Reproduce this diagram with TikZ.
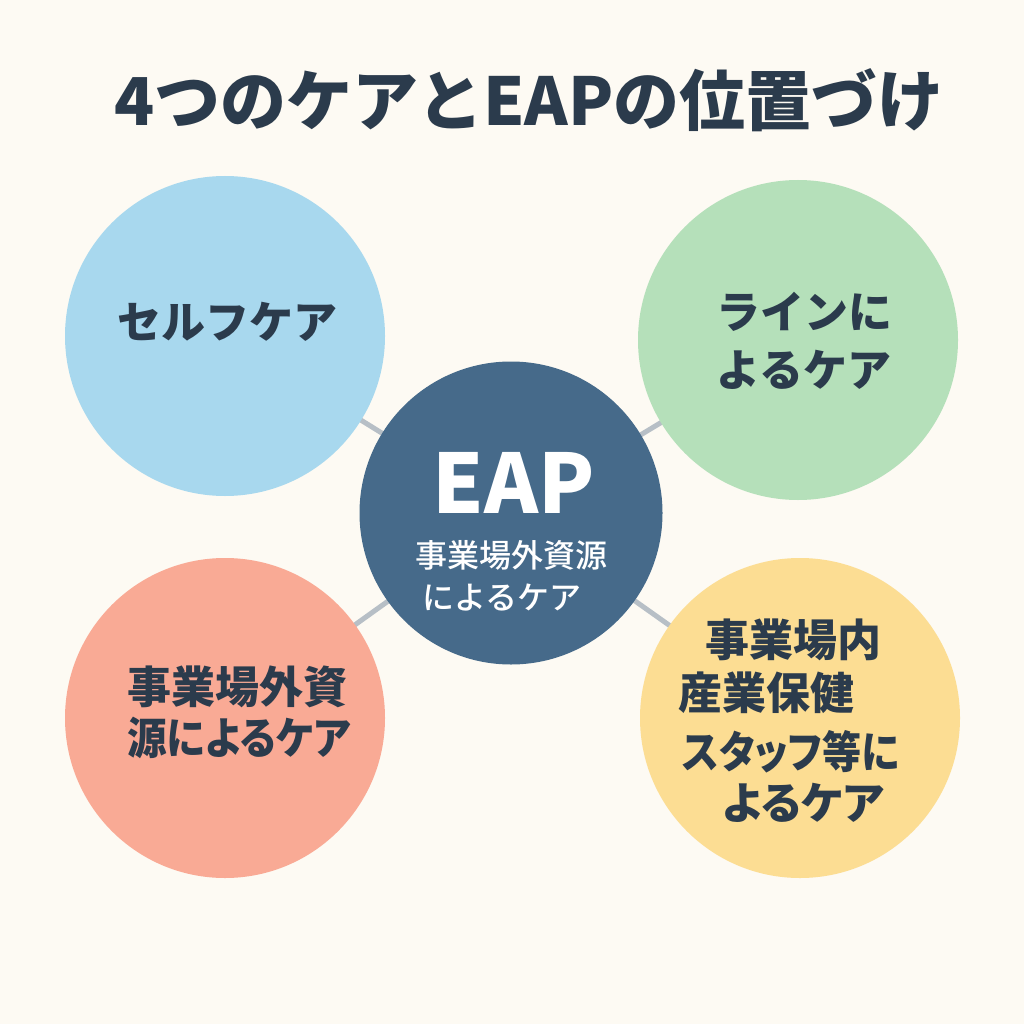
\documentclass[tikz,border=0pt]{standalone}
\usepackage{fontspec}
\setmainfont{Noto Sans CJK JP}
\newfontfamily\jpmed{Noto Sans CJK JP}[UprightFont={* Medium}]
\newfontfamily\jpprop{Noto Sans CJK JP}[RawFeature=+palt]
\definecolor{bgc}{HTML}{FDFAF3}
\definecolor{bluec}{HTML}{A8D8EE}
\definecolor{greenc}{HTML}{B5E0BA}
\definecolor{redc}{HTML}{F9AA95}
\definecolor{yellowc}{HTML}{FCDD93}
\definecolor{eapc}{HTML}{466A8A}
\definecolor{linkc}{HTML}{B7BFC6}
\definecolor{textc}{HTML}{2B3B4C}
\tikzset{
  care/.style={circle, minimum size=320pt, inner sep=0pt, draw=none},
  hub/.style={circle, minimum size=303pt, inner sep=0pt, fill=eapc, draw=none},
  link/.style={draw=linkc, line width=5pt},
  lbl/.style={font=\bfseries\fontsize{44}{50}\selectfont, text=textc, inner sep=0pt, anchor=center},
  plbl/.style={font=\jpprop\bfseries\fontsize{44}{50}\selectfont, text=textc, inner sep=0pt, anchor=west},
  sublbl/.style={font=\jpmed\fontsize{32}{36}\selectfont, text=white, inner sep=0pt, anchor=center},
}
\begin{document}
\begin{tikzpicture}[x=1pt,y=-1pt]
\fill[bgc] (0,0) rectangle (1024,1024);
\useasboundingbox (0,0) rectangle (1024,1024);
\node[font=\bfseries\fontsize{66}{72}\selectfont, text=textc, inner sep=0pt] (title) at (529,100) {4つのケアとEAPの位置づけ};
\coordinate (cE) at (511,513);
\coordinate (cB) at (225,336);
\coordinate (cG) at (798,340);
\coordinate (cR) at (225,718);
\coordinate (cY) at (800,718);
\draw[link] (cE) -- (cB);
\draw[link] (cE) -- (cG);
\draw[link] (cE) -- (cR);
\draw[link] (cE) -- (cY);
\node[care, fill=bluec] (blue) at (cB) {};
\node[care, fill=greenc] (green) at (cG) {};
\node[care, fill=redc] (red) at (cR) {};
\node[care, fill=yellowc] (yellow) at (cY) {};
\node[hub] (eap) at (cE) {};
% labels
\node[lbl] (tB) at (227,322) {セルフケア};
\node[lbl] (tG1) at (804,312) {ラインに};
\node[lbl] (tG2) at (804,370) {よるケア};
\node[lbl, anchor=west] (tR1) at (127,687) {事業場外資};
\node[plbl] (tR2) at (127,738) {\scalebox{0.9}[1]{源によるケア}};
\node[lbl, anchor=west] (tY1) at (705,640) {事業場内};
\node[lbl, anchor=west] (tY2) at (678,693) {産業保健};
\node[plbl] (tY3) at (682,752) {\scalebox{0.89}[1]{スタッフ等に}};
\node[plbl] (tY4) at (722,803) {よるケア};
\node[font=\bfseries\fontsize{82}{86}\selectfont, text=white, inner sep=0pt] (eapT) at (514,483) {EAP};
\node[sublbl] (eapS1) at (511,555) {事業場外資源};
\node[sublbl] (eapS2) at (502,598) {によるケア};
\end{tikzpicture}
\end{document}
